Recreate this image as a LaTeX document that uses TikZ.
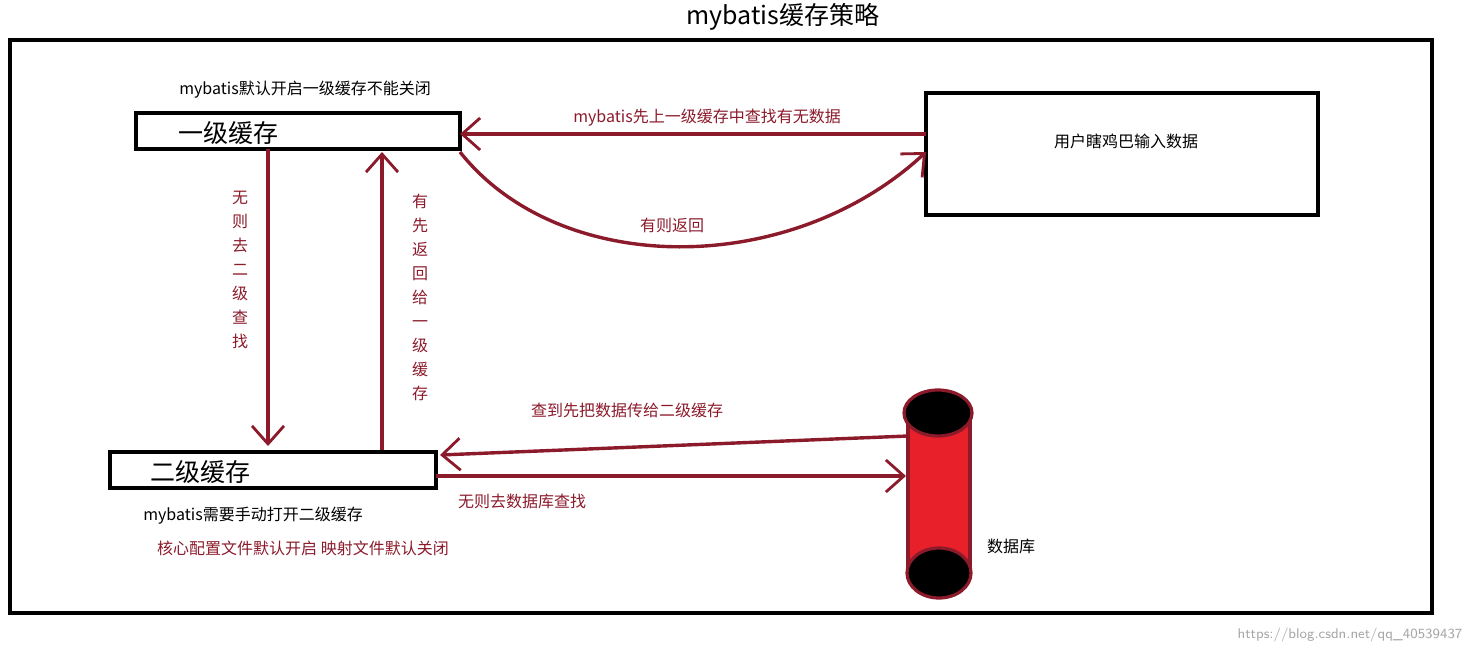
\documentclass[tikz,border=0pt]{standalone}
\usepackage{fontspec}
\newfontfamily\cjk{Noto Sans CJK SC}
\usetikzlibrary{arrows.meta}
\definecolor{dr}{HTML}{8B1A2B}
\definecolor{cylred}{HTML}{E8202A}
\begin{document}
\begin{tikzpicture}[x=0.5pt,y=-0.5pt,font=\cjk\fontsize{8}{9}\selectfont,
  box/.style={draw=black,line width=1.8pt},
  conn/.style={draw=dr,line width=1.7pt,-{Straight Barb[length=9pt,width=16pt,line width=1.4pt]}},
  lbl/.style={text=dr,inner sep=0pt},
  vlbl/.style={text=dr,inner sep=0pt,align=center,font=\cjk\fontsize{8}{12}\selectfont}]
\useasboundingbox (0,0) rectangle (1477,653);
\node[font=\cjk\fontsize{12.5}{14}\selectfont] (title) at (783,17) {mybatis缓存策略};
\draw[line width=1.8pt] (10,40) rectangle (1432,613);
\node[inner sep=0pt] (n1) at (305,90) {mybatis默认开启一级缓存不能关闭};
\draw[box] (136,113) rectangle (460,149);
\coordinate (l1) at (460,134);
\node[font=\cjk\fontsize{12.5}{14}\selectfont,inner sep=0pt] (one) at (228,133) {一级缓存};
\draw[box] (926,93) rectangle (1318,215);
\node (user) at (1126,141) {用户瞎鸡巴输入数据};
\coordinate (uin) at (926,134);
\coordinate (uret) at (926,152);
\coordinate (l1b) at (460,152);
\draw[conn] (uin) -- (l1);
\node[lbl] (q1) at (707,118) {mybatis先上一级缓存中查找有无数据};
\draw[conn] (l1b) .. controls (560,278) and (790,278) .. (uret);
\node[lbl] (ret) at (672,225) {有则返回};
\draw[box] (110,452) rectangle (436,488);
\node[font=\cjk\fontsize{12.5}{14}\selectfont,inner sep=0pt] (two) at (200,472) {二级缓存};
\coordinate (a1) at (268,149); \coordinate (a2) at (268,446);
\draw[conn] (a1) -- (a2);
\node[vlbl] (v1) at (240,270) {无\\则\\去\\二\\级\\查\\找};
\coordinate (b1) at (382,450); \coordinate (b2) at (382,152);
\draw[conn] (b1) -- (b2);
\node[vlbl] (v2) at (420,297) {有\\先\\返\\回\\给\\一\\级\\缓\\存};
\node[inner sep=0pt] (n2) at (253,516) {mybatis需要手动打开二级缓存};
\node[lbl] (n3) at (303,548) {核心配置文件默认开启 映射文件默认关闭};
% database
\fill[cylred] (908,413) rectangle (970,573);
\draw[dr,line width=1.6pt] (908,413) -- (908,573) (970,413) -- (970,573);
\draw[dr,line width=1.6pt,fill=black] (939,573) ellipse (32 and 25);
\draw[dr,line width=1.6pt,fill=black] (938,413) ellipse (34 and 23);
\node (db) at (1011,546) {数据库};
\coordinate (d1) at (908,436); \coordinate (d2) at (440,455);
\draw[conn] (d1) -- (d2);
\node[lbl] (q2) at (627,410) {查到先把数据传给二级缓存};
\coordinate (e1) at (436,476); \coordinate (e2) at (906,476);
\draw[conn] (e1) -- (e2);
\node[lbl] (q3) at (522,501) {无则去数据库查找};
\node[text=gray!70,font=\sffamily\fontsize{7}{8}\selectfont] (wm) at (1350,635) {https://blog.csdn.net/qq\_40539437};
\end{tikzpicture}
\end{document}
